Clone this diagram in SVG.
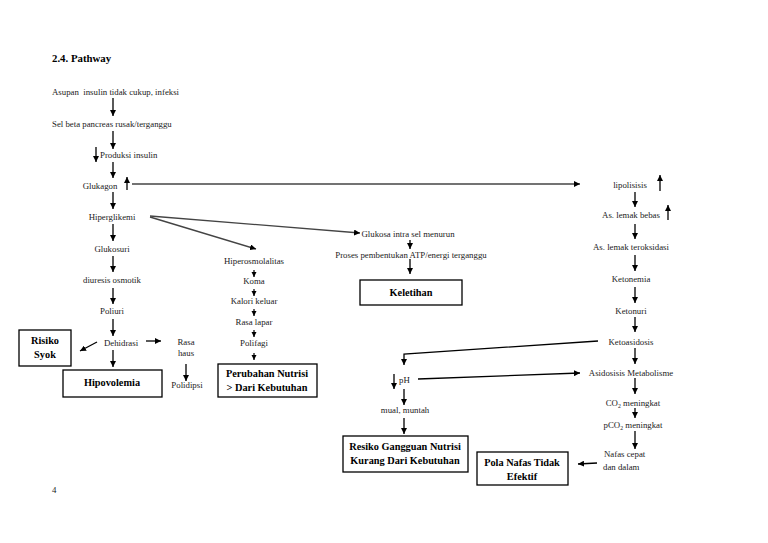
<svg xmlns="http://www.w3.org/2000/svg" width="768" height="543" viewBox="0 0 768 543">
<defs>
<marker id="ah" markerUnits="userSpaceOnUse" markerWidth="7" markerHeight="6" refX="6" refY="3" orient="auto"><path d="M0,0 L6,3 L0,6 z" fill="#000"/></marker>
<marker id="ahs" markerUnits="userSpaceOnUse" markerWidth="6" markerHeight="6" refX="5" refY="2.5" orient="auto"><path d="M0,0 L5,2.5 L0,5 z" fill="#000"/></marker>
<style>
text{font-family:"Liberation Serif","Times New Roman",serif;font-size:8.8px;fill:#222}
.c{text-anchor:middle}
.b{font-weight:bold;font-size:10.3px;fill:#000}
.t{font-weight:bold;font-size:10.8px;fill:#000}
.box{fill:#fff;stroke:#000;stroke-width:1.3}
.a{stroke:#000;stroke-width:1.3;fill:none;marker-end:url(#ah)}
.s{stroke:#000;stroke-width:1.2;fill:none;marker-end:url(#ahs)}
.l{stroke:#444;stroke-width:1.4;fill:none;marker-end:url(#ah)}
</style>
</defs>
<rect width="768" height="543" fill="#fff"/>
<text x="52" y="62" class="t">2.4. Pathway</text>
<text x="52" y="493">4</text>

<g id="asupan"><text x="52" y="95" xml:space="preserve">Asupan  insulin tidak cukup, infeksi</text></g>
<g id="selbeta"><text x="52" y="127">Sel beta pancreas rusak/terganggu</text></g>
<g id="produksi"><text x="100" y="158">Produksi insulin</text></g>
<g id="glukagon"><text x="100" y="189" class="c">Glukagon</text></g>
<g id="hiperglikemi"><text x="112" y="220" class="c">Hiperglikemi</text></g>
<g id="glukosuri"><text x="112" y="252" class="c">Glukosuri</text></g>
<g id="diuresis"><text x="112" y="283" class="c">diuresis osmotik</text></g>
<g id="poliuri"><text x="112" y="314" class="c">Poliuri</text></g>
<g id="dehidrasi"><text x="121" y="346" class="c">Dehidrasi</text></g>
<g id="risikosyok"><rect x="19" y="330" width="52" height="36" class="box"/><text x="45" y="344" class="c b">Risiko</text><text x="45" y="358" class="c b">Syok</text></g>
<g id="rasahaus"><text x="186" y="345" class="c">Rasa</text><text x="186" y="356" class="c">haus</text></g>
<g id="hipovolemia"><rect x="63" y="370" width="99" height="27" class="box"/><text x="112" y="386" class="c b">Hipovolemia</text></g>
<g id="polidipsi"><text x="187" y="388" class="c">Polidipsi</text></g>

<g id="hiperosmolalitas"><text x="254" y="264" class="c">Hiperosmolalitas</text></g>
<g id="koma"><text x="254" y="284" class="c">Koma</text></g>
<g id="kalori"><text x="254" y="304" class="c">Kalori keluar</text></g>
<g id="rasalapar"><text x="254" y="325" class="c">Rasa lapar</text></g>
<g id="polifagi"><text x="254" y="346" class="c">Polifagi</text></g>
<g id="perubahan"><rect x="218" y="364" width="99" height="33" class="box"/><text x="267" y="377" class="c b">Perubahan Nutrisi</text><text x="267" y="391" class="c b">&gt; Dari Kebutuhan</text></g>

<g id="glukosaintra"><text x="408" y="237" class="c">Glukosa intra sel menurun</text></g>
<g id="proses"><text x="411" y="258" class="c">Proses pembentukan ATP/energi terganggu</text></g>
<g id="keletihan"><rect x="360" y="280" width="102" height="25" class="box"/><text x="411" y="296" class="c b">Keletihan</text></g>

<g id="lipolisisis"><text x="630" y="188" class="c">lipolisisis</text></g>
<g id="aslemakbebas"><text x="631" y="218" class="c">As. lemak bebas</text></g>
<g id="aslemakteroksidasi"><text x="631" y="250" class="c">As. lemak teroksidasi</text></g>
<g id="ketonemia"><text x="631" y="282" class="c">Ketonemia</text></g>
<g id="ketonuri"><text x="631" y="314" class="c">Ketonuri</text></g>
<g id="ketoasidosis"><text x="631" y="345" class="c">Ketoasidosis</text></g>
<g id="asidosisis"><text x="631" y="376" class="c">Asidosisis Metabolisme</text></g>
<g id="co2"><text x="633" y="406" class="c">CO<tspan font-size="5.8" dy="2">2</tspan><tspan dy="-2"> meningkat</tspan></text></g>
<g id="pco2"><text x="633" y="428" class="c">pCO<tspan font-size="5.8" dy="2">2</tspan><tspan dy="-2"> meningkat</tspan></text></g>
<g id="nafas"><text x="604" y="457">Nafas cepat</text><text x="603" y="470">dan dalam</text></g>
<g id="polanafas"><rect x="477" y="452" width="91" height="33" class="box"/><text x="522" y="466" class="c b">Pola Nafas Tidak</text><text x="522" y="480" class="c b">Efektif</text></g>

<g id="ph"><text x="399" y="383">pH</text></g>
<g id="mual"><text x="405" y="413" class="c">mual, muntah</text></g>
<g id="resiko"><rect x="343" y="436" width="125" height="36" class="box"/><text x="405" y="450" class="c b">Resiko Gangguan Nutrisi</text><text x="405" y="464" class="c b">Kurang Dari Kebutuhan</text></g>

<g id="connectors">
<path d="M113,98 V116" class="a"/>
<path d="M113,131 V149" class="a"/>
<path d="M96,147 V162" class="a"/>
<path d="M113,162 V178" class="a"/>
<path d="M127,190 V177" class="a"/>
<path d="M132,184 H580" class="l"/>
<path d="M150,216 L360,233" class="l"/>
<path d="M150,217 L256,249" class="l"/>
<path d="M113,192 V209" class="a"/>
<path d="M113,224 V241" class="a"/>
<path d="M113,256 V272" class="a"/>
<path d="M113,288 V304" class="a"/>
<path d="M113,319 V336" class="a"/>
<path d="M97,342 L80,351" class="a"/>
<path d="M146,341 H161" class="a"/>
<path d="M113,350 V367" class="a"/>
<path d="M186,364 V381" class="a"/>
<path d="M254,270 V277" class="s"/>
<path d="M254,289 V296" class="s"/>
<path d="M254,309 V316" class="s"/>
<path d="M254,330 V337" class="s"/>
<path d="M254,353 V360" class="s"/>
<path d="M410,240 V249" class="a"/>
<path d="M410,259 V274" class="a"/>
<path d="M660,191 V175" class="a"/>
<path d="M635,192 V207" class="a"/>
<path d="M668,220 V205" class="a"/>
<path d="M635,224 V239" class="a"/>
<path d="M635,255 V271" class="a"/>
<path d="M635,287 V303" class="a"/>
<path d="M635,317 V332" class="a"/>
<path d="M598,341 L404,354 V365" class="a"/>
<path d="M635,348 V364" class="a"/>
<path d="M394,374 V389" class="a"/>
<path d="M418,379 L580,373" class="a"/>
<path d="M404,389 V405" class="a"/>
<path d="M404,418 V434" class="a"/>
<path d="M635,378 V394" class="a"/>
<path d="M635,408 V418" class="a"/>
<path d="M635,431 V449" class="a"/>
<path d="M597,463 L578,464" class="a"/>
</g>
</svg>
